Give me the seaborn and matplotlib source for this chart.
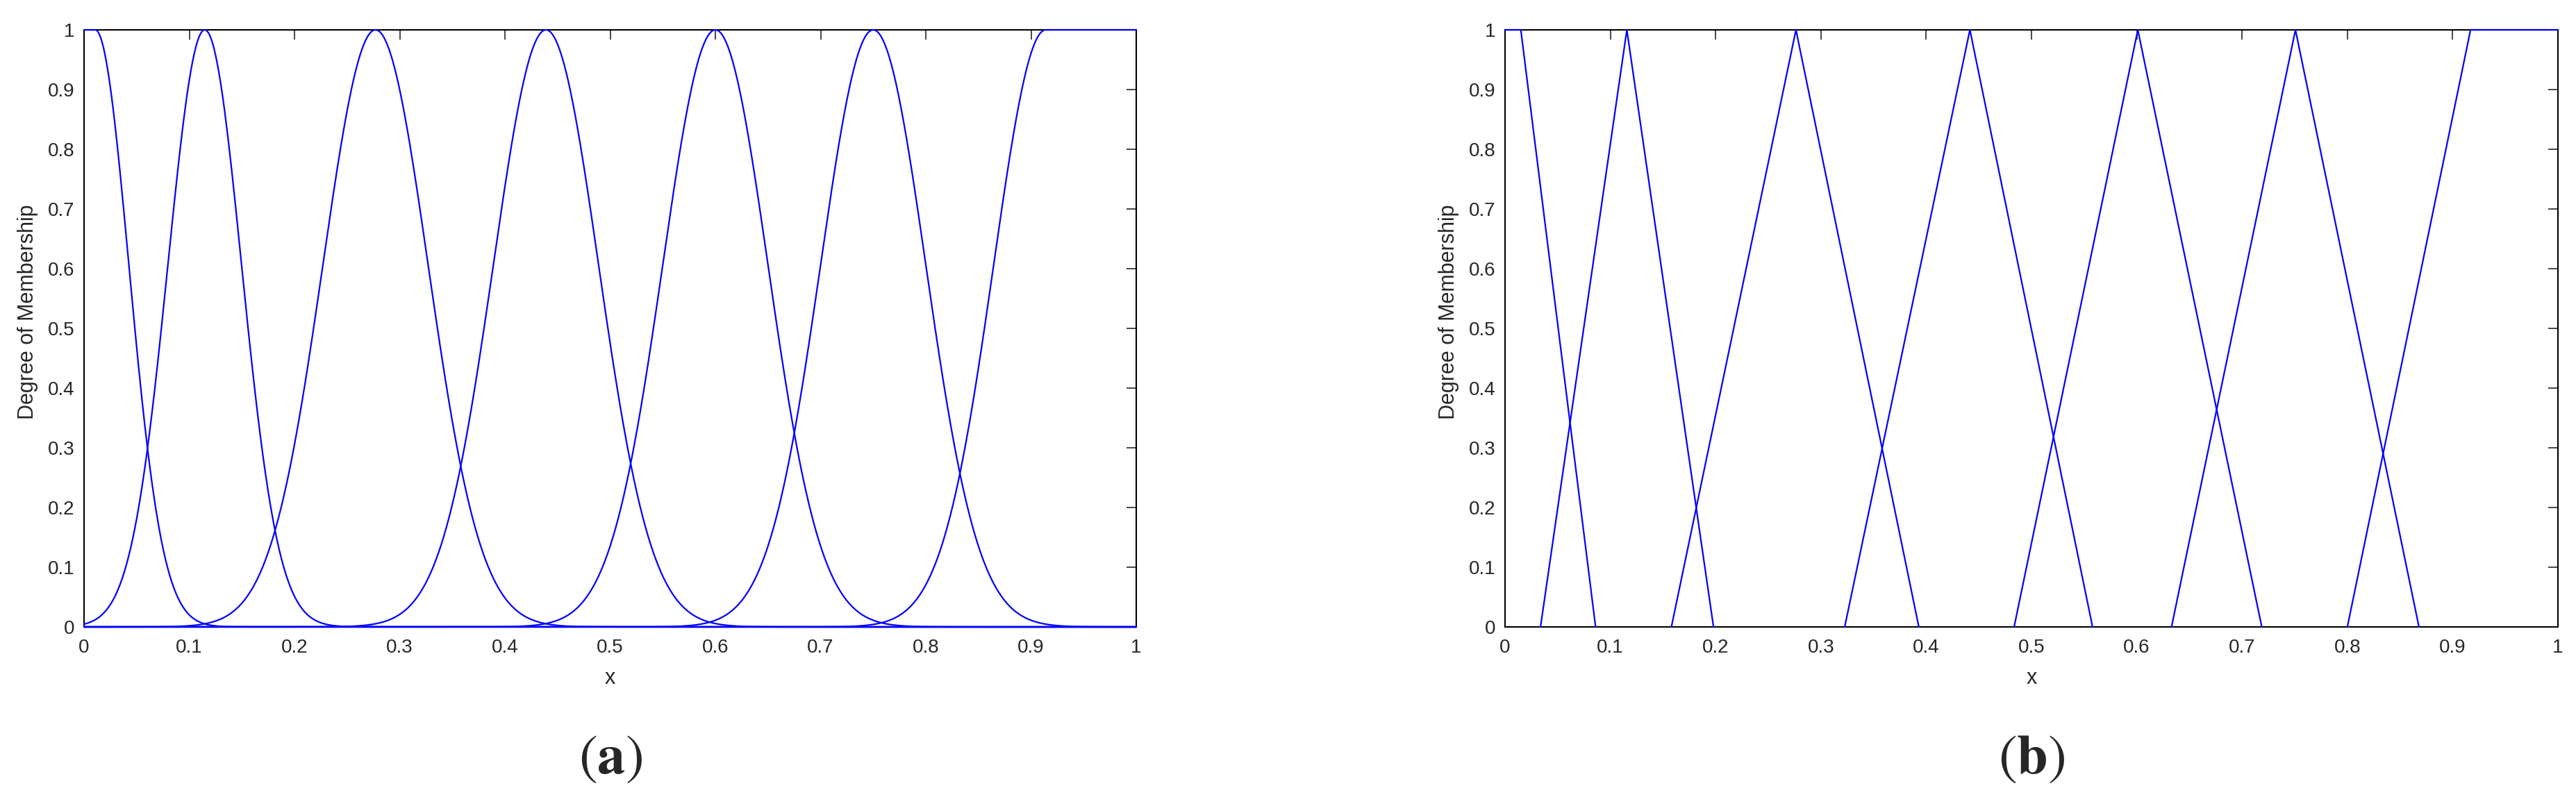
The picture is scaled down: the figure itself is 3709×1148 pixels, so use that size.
import numpy as np
import pandas as pd
import matplotlib
matplotlib.use("Agg")
import matplotlib.pyplot as plt
import seaborn as sns

# Membership function parameters
# (a) Gaussian MFs: flat top from start to end, Gaussian sides with sigma
gauss_flat_start = [0.0, 0.1147, 0.277, 0.439, 0.600, 0.750, 0.914]
gauss_flat_end = [0.0106, 0.1147, 0.277, 0.439, 0.600, 0.750, 1.0]
gauss_sigma = [0.032, 0.035, 0.050, 0.050, 0.050, 0.050, 0.0495]

# (b) triangular / trapezoid MFs: feet a, d and top b..c
tri_a = [0.0, 0.0337, 0.158, 0.3226, 0.4835, 0.633, 0.800]
tri_b = [0.0, 0.1157, 0.2763, 0.4415, 0.601, 0.7507, 0.917]
tri_c = [0.015, 0.1157, 0.2763, 0.4415, 0.601, 0.7507, 1.0]
tri_d = [0.086, 0.198, 0.393, 0.558, 0.7187, 0.868, 1.0]

tick_values = [0, 0.1, 0.2, 0.3, 0.4, 0.5, 0.6, 0.7, 0.8, 0.9, 1]
tick_labels = ["0", "0.1", "0.2", "0.3", "0.4", "0.5", "0.6", "0.7", "0.8", "0.9", "1"]
panel_labels = ["a", "b"]

sns.set_style("white")
plt.rcParams["font.family"] = ["Liberation Sans", "DejaVu Sans"]
plt.rcParams["mathtext.fontset"] = "stix"

# Build gaussian curves (gauss2mf style)
xs = np.linspace(0, 1, 1201)
rows = []
for i in range(len(gauss_sigma)):
    s = gauss_sigma[i]
    c1, c2 = gauss_flat_start[i], gauss_flat_end[i]
    y = np.ones_like(xs)
    left = xs < c1
    right = xs > c2
    y[left] = np.exp(-(xs[left] - c1) ** 2 / (2 * s ** 2))
    y[right] = np.exp(-(xs[right] - c2) ** 2 / (2 * s ** 2))
    for xv, yv in zip(xs, y):
        rows.append((i, xv, yv))
df_gauss = pd.DataFrame(rows, columns=["mf", "x", "mu"])

# Build triangle polylines from vertices
rows = []
for i in range(len(tri_a)):
    pts = []
    if tri_a[i] < tri_b[i]:
        pts.append((tri_a[i], 0.0))
    pts.append((tri_b[i], 1.0))
    pts.append((tri_c[i], 1.0))
    if tri_c[i] < tri_d[i]:
        pts.append((tri_d[i], 0.0))
    for k, (xv, yv) in enumerate(pts):
        rows.append((i, k, xv, yv))
df_tri = pd.DataFrame(rows, columns=["mf", "k", "x", "mu"])

fig = plt.figure(figsize=(37.09, 11.48), dpi=100)
ax_a = fig.add_axes([121 / 3709, 1 - 903 / 1148, 1515 / 3709, 860 / 1148])
ax_b = fig.add_axes([2167 / 3709, 1 - 903 / 1148, 1516 / 3709, 860 / 1148])

sns.lineplot(data=df_gauss, x="x", y="mu", units="mf", estimator=None, sort=False,
             color="#0000ff", linewidth=1.6, ax=ax_a, clip_on=False, zorder=3)
sns.lineplot(data=df_tri, x="x", y="mu", units="mf", estimator=None, sort=False,
             color="#0000ff", linewidth=1.6, ax=ax_b, clip_on=False, zorder=3)

for ax, lab in zip([ax_a, ax_b], panel_labels):
    ax.set_xlim(0, 1)
    ax.set_ylim(0, 1)
    ax.set_xticks(tick_values)
    ax.set_xticklabels(tick_labels)
    ax.set_yticks(tick_values)
    ax.set_yticklabels(tick_labels)
    ax.tick_params(direction="in", top=True, right=True, length=10, width=1.2,
                   labelsize=20, colors="#262626", pad=12)
    ax.tick_params(axis="y", pad=10)
    for sp in ax.spines.values():
        sp.set_visible(True)
        sp.set_color("black")
        sp.set_linewidth(1.5)
    ax.set_xlabel("x", fontsize=22, color="#262626", labelpad=12)
    ax.set_ylabel("Degree of Membership", fontsize=22, color="#262626")
    ax.yaxis.set_label_coords(-66 / 1515, 0.528)
    pos = ax.get_position()
    fig.text(pos.x0 + pos.width / 2, 1 - 1093 / 1148, r"$(\mathbf{" + lab + "})$",
             fontsize=58, ha="center", va="center")

fig.savefig("out.png", dpi=100, facecolor="white")
